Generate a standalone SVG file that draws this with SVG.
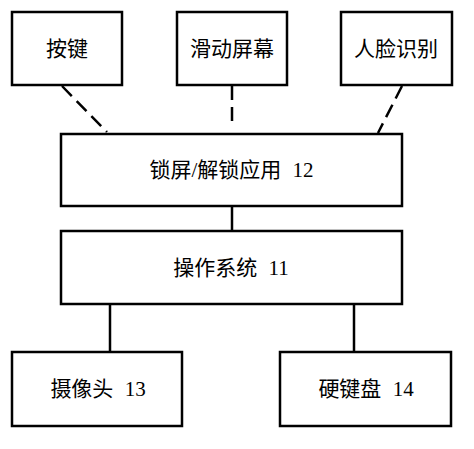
<svg xmlns="http://www.w3.org/2000/svg" width="474" height="449" viewBox="0 0 474 449">
<style>
.box{fill:#fff;stroke:#000;stroke-width:2.5}
.lbl{font-family:"Liberation Serif","Noto Sans CJK SC",serif;font-size:21px;fill:#000;text-anchor:middle}
.ln{stroke:#000;stroke-width:2.5;fill:none}
.dash{stroke-dasharray:14 7}
</style>
<rect width="474" height="449" fill="#fff"/>
<g id="connectors">
<line class="ln dash" x1="62" y1="86" x2="107" y2="132"/>
<line class="ln dash" x1="232" y1="86" x2="232" y2="126"/>
<line class="ln dash" x1="402" y1="86" x2="378" y2="133"/>
<line class="ln" x1="232" y1="206" x2="232" y2="231"/>
<line class="ln" x1="110" y1="304" x2="110" y2="352"/>
<line class="ln" x1="354" y1="304" x2="354" y2="352"/>
</g>
<g id="n_key"><rect class="box" x="12" y="12" width="110" height="73"/><text class="lbl" x="67" y="55.5">按键</text></g>
<g id="n_slide"><rect class="box" x="177" y="12" width="110" height="73"/><text class="lbl" x="232" y="55.5">滑动屏幕</text></g>
<g id="n_face"><rect class="box" x="341" y="12" width="111" height="73"/><text class="lbl" x="396" y="55.5">人脸识别</text></g>
<g id="n_app"><rect class="box" x="61" y="134" width="341" height="72"/><text class="lbl" x="231.5" y="177">锁屏/解锁应用 <tspan dx="6">12</tspan></text></g>
<g id="n_os"><rect class="box" x="61" y="231" width="341" height="73"/><text class="lbl" x="231" y="274.5">操作系统 <tspan dx="6">11</tspan></text></g>
<g id="n_cam"><rect class="box" x="12" y="352" width="170" height="74"/><text class="lbl" x="98" y="396">摄像头 <tspan dx="6">13</tspan></text></g>
<g id="n_hdd"><rect class="box" x="280" y="352" width="171" height="74"/><text class="lbl" x="366" y="396">硬键盘 <tspan dx="6">14</tspan></text></g>
</svg>
